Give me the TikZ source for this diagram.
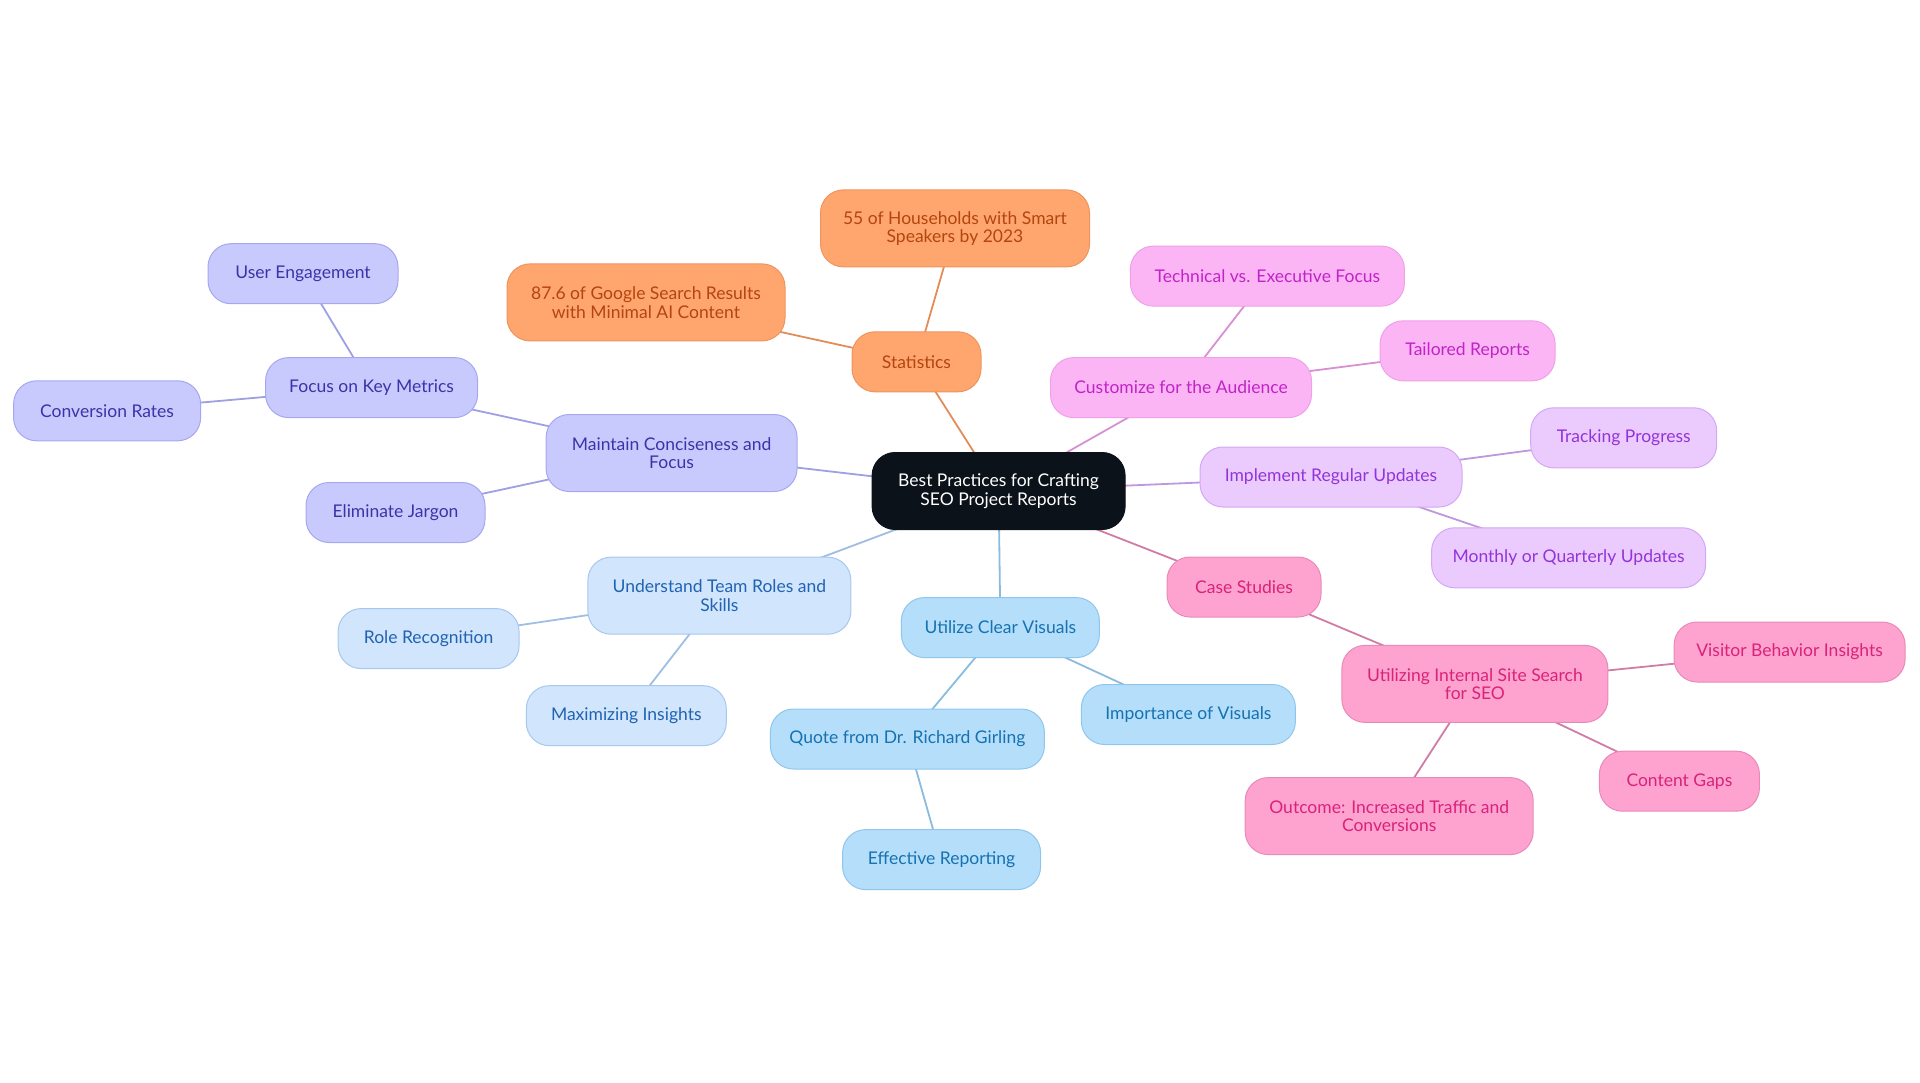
\documentclass[tikz,border=0pt]{standalone}
\usepackage{fontspec}
\setmainfont{Lato}
\usepackage{tikz}
\usetikzlibrary{positioning,backgrounds}
\usepackage{xcolor}
\definecolor{rootfill}{HTML}{0B1219}
\definecolor{orgfill}{HTML}{FFA66F}
\definecolor{orgline}{HTML}{EE945E}
\definecolor{orgtext}{HTML}{B4450E}
\definecolor{fucfill}{HTML}{FCB5F4}
\definecolor{fucline}{HTML}{EFA0E8}
\definecolor{fuctext}{HTML}{C024C8}
\definecolor{lilfill}{HTML}{EBCBFD}
\definecolor{lilline}{HTML}{D3A8F4}
\definecolor{liltext}{HTML}{9234D8}
\definecolor{rosfill}{HTML}{FEA3CF}
\definecolor{rosline}{HTML}{E88AB8}
\definecolor{rostext}{HTML}{D9227A}
\definecolor{skyfill}{HTML}{B5DEFB}
\definecolor{skyline}{HTML}{90C6EC}
\definecolor{skytext}{HTML}{1672B0}
\definecolor{palfill}{HTML}{D1E5FC}
\definecolor{palline}{HTML}{A7C8EE}
\definecolor{paltext}{HTML}{2163B3}
\definecolor{indfill}{HTML}{C8CAFD}
\definecolor{indline}{HTML}{A5A8EE}
\definecolor{indtext}{HTML}{3A34A8}

\begin{document}
\begin{tikzpicture}[
      x=1pt, y=-1pt,
      font=\fontsize{17.5}{18.5}\selectfont,
      bubble/.style={draw, rounded corners=23pt, align=center, minimum height=60pt,
                     line width=1pt, inner xsep=4pt},
      tall/.style={minimum height=77pt},
      rootbox/.style={bubble, fill=rootfill, draw=rootfill, text=white, minimum height=77pt},
      orgbox/.style={bubble, fill=orgfill, draw=orgline, text=orgtext},
      fucbox/.style={bubble, fill=fucfill, draw=fucline, text=fuctext},
      lilbox/.style={bubble, fill=lilfill, draw=lilline, text=liltext},
      rosbox/.style={bubble, fill=rosfill, draw=rosline, text=rostext},
      skybox/.style={bubble, fill=skyfill, draw=skyline, text=skytext},
      palbox/.style={bubble, fill=palfill, draw=palline, text=paltext},
      indbox/.style={bubble, fill=indfill, draw=indline, text=indtext},
      link/.style={line width=1.8pt},
    ]
    \useasboundingbox (0,0) rectangle (1920,1083);

    % centre
    \node[rootbox, minimum width=253pt] (root) at (998.6,491)
      {Best Practices for Crafting\\SEO Project Reports};

    % statistics branch
    \node[orgbox, minimum width=129pt] (stats) at (916.5,361.8) {Statistics};
    \node[orgbox, tall, minimum width=269pt] (homes) at (955,228.4)
      {55 of Households with Smart\\Speakers by 2023};
    \node[orgbox, tall, minimum width=278pt] (google) at (646,302.4)
      {87.6 of Google Search Results\\with Minimal AI Content};

    % audience branch
    \node[fucbox, minimum width=261pt] (audience) at (1181,387.6) {Customize for the Audience};
    \node[fucbox, minimum width=274pt] (techexec) at (1267.4,276.1) {Technical vs. Executive Focus};
    \node[fucbox, minimum width=175pt] (tailored) at (1467.6,350.8) {Tailored Reports};

    % updates branch
    \node[lilbox, minimum width=262pt] (updates) at (1331,477) {Implement Regular Updates};
    \node[lilbox, minimum width=186pt] (tracking) at (1623.7,437.8) {Tracking Progress};
    \node[lilbox, minimum width=274pt] (monthly) at (1568.6,557.8) {Monthly or Quarterly Updates};

    % case studies branch
    \node[rosbox, minimum width=154pt] (cases) at (1244,587) {Case Studies};
    \node[rosbox, tall, minimum width=266pt] (sitesearch) at (1474.9,683.9)
      {Utilizing Internal Site Search\\for SEO};
    \node[rosbox, minimum width=231pt] (visitor) at (1789.6,652) {Visitor Behavior Insights};
    \node[rosbox, minimum width=160pt] (gaps) at (1679.4,781.2) {Content Gaps};
    \node[rosbox, tall, minimum width=288pt] (outcome) at (1389.2,816.1)
      {Outcome: Increased Traffic and\\Conversions};

    % visuals branch
    \node[skybox, minimum width=198pt] (visuals) at (1000.4,627.6) {Utilize Clear Visuals};
    \node[skybox, minimum width=214pt] (importance) at (1188.4,714.5) {Importance of Visuals};
    \node[skybox, minimum width=274pt] (quote) at (907.4,739) {Quote from Dr. Richard Girling};
    \node[skybox, minimum width=198pt] (effective) at (941.6,859.6) {Effective Reporting};

    % team branch
    \node[palbox, tall, minimum width=263pt] (team) at (719.4,595.7)
      {Understand Team Roles and\\Skills};
    \node[palbox, minimum width=181pt] (roles) at (428.6,638.6) {Role Recognition};
    \node[palbox, minimum width=200pt] (insights) at (626.3,715.7) {Maximizing Insights};

    % conciseness branch
    \node[indbox, tall, minimum width=251pt] (concise) at (671.6,453)
      {Maintain Conciseness and\\Focus};
    \node[indbox, minimum width=212pt] (metrics) at (371.6,387.6) {Focus on Key Metrics};
    \node[indbox, minimum width=190pt] (engage) at (303,273.7) {User Engagement};
    \node[indbox, minimum width=187pt] (conversion) at (107.1,410.8) {Conversion Rates};
    \node[indbox, minimum width=179pt] (jargon) at (395.5,512.5) {Eliminate Jargon};

    % links, centre to centre, hidden under the boxes
    \begin{scope}[on background layer]
    \draw[link, orgline!95!black] (root.center) -- (stats.center);
    \draw[link, orgline!95!black] (stats.center) -- (homes.center);
    \draw[link, orgline!95!black] (stats.center) -- (google.center);
    \draw[link, fucline!90!black] (root.center) -- (audience.center);
    \draw[link, fucline!90!black] (audience.center) -- (techexec.center);
    \draw[link, fucline!90!black] (audience.center) -- (tailored.center);
    \draw[link, lilline!90!black] (root.center) -- (updates.center);
    \draw[link, lilline!90!black] (updates.center) -- (tracking.center);
    \draw[link, lilline!90!black] (updates.center) -- (monthly.center);
    \draw[link, rosline!90!black] (root.center) -- (cases.center);
    \draw[link, rosline!90!black] (cases.center) -- (sitesearch.center);
    \draw[link, rosline!90!black] (sitesearch.center) -- (visitor.center);
    \draw[link, rosline!90!black] (sitesearch.center) -- (gaps.center);
    \draw[link, rosline!90!black] (sitesearch.center) -- (outcome.center);
    \draw[link, skyline!95!black] (root.center) -- (visuals.center);
    \draw[link, skyline!95!black] (visuals.center) -- (importance.center);
    \draw[link, skyline!95!black] (visuals.center) -- (quote.center);
    \draw[link, skyline!95!black] (quote.center) -- (effective.center);
    \draw[link, palline!95!black] (root.center) -- (team.center);
    \draw[link, palline!95!black] (team.center) -- (roles.center);
    \draw[link, palline!95!black] (team.center) -- (insights.center);
    \draw[link, indline!95!black] (root.center) -- (concise.center);
    \draw[link, indline!95!black] (concise.center) -- (metrics.center);
    \draw[link, indline!95!black] (concise.center) -- (jargon.center);
    \draw[link, indline!95!black] (metrics.center) -- (engage.center);
    \draw[link, indline!95!black] (metrics.center) -- (conversion.center);
    \end{scope}
  \end{tikzpicture}
\end{document}
